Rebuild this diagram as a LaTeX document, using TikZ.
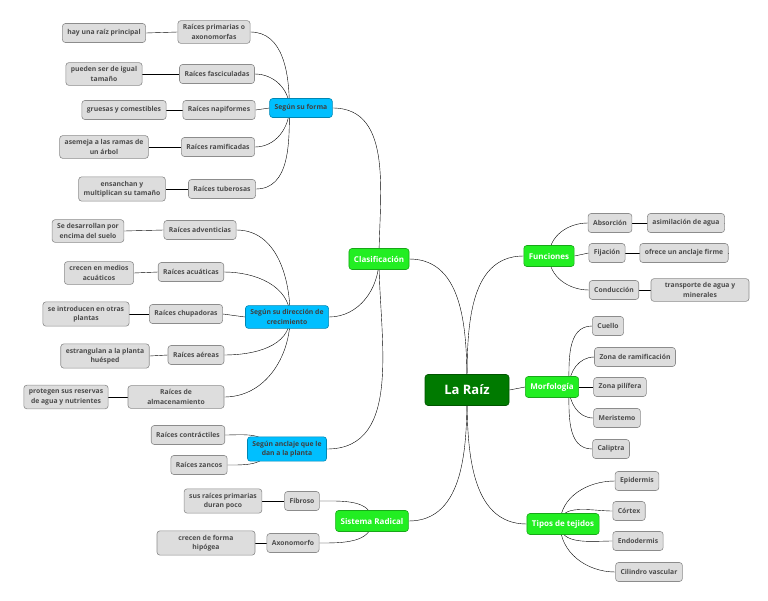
\documentclass[tikz,border=0pt]{standalone}
\usepackage{fontspec}
\setmainfont{Open Sans}
\usetikzlibrary{backgrounds}
\definecolor{dg}{HTML}{007A00}
\definecolor{lg}{HTML}{22EE22}
\definecolor{bl}{HTML}{00BFFF}
\definecolor{gr}{HTML}{DDDDDD}
\tikzset{
 base/.style={rounded corners=3pt,draw=black!45,line width=0.6pt,align=center,font=\fontsize{6.8}{9.5}\selectfont\bfseries,inner xsep=5pt,inner ysep=4pt,minimum height=19pt},
 leaf/.style={base,fill=gr,text=black!70},
 hub/.style={base,fill=bl,text=black!75,draw=bl!70!black},
 sec/.style={base,fill=lg,text=white,draw=lg!70!black,font=\fontsize{8}{10}\selectfont\bfseries,minimum height=21pt},
 rootst/.style={base,fill=dg,text=white,font=\fontsize{13}{15}\selectfont\bfseries,minimum width=84pt,minimum height=31pt,draw=dg!70!black},
 ln/.style={draw=black!50,line width=0.6pt},
}
\begin{document}
\begin{tikzpicture}[x=1pt,y=-1pt]
\useasboundingbox (0,0) rectangle (768,600);
\node[rootst] (root) at (467,390) {La Raíz};
\node[sec] (clas) at (379,259) {Clasificación};
\node[sec] (sr) at (372,521) {Sistema Radical};
\node[sec] (fun) at (549,256) {Funciones};
\node[sec] (mor) at (552,387) {Morfología};
\node[sec] (tip) at (563,524) {Tipos de tejidos};
\node[hub] (h1) at (301,108) {Según su forma};
\node[hub] (h2) at (287,317) {Según su dirección de\\crecimiento};
\node[hub] (h3) at (287,449) {Según anclaje que le\\dan a la planta};
% forma
\node[leaf] (a1) at (214,32) {Raíces primarias o\\axonomorfas};
\node[leaf] (b1) at (104,33) {hay una raíz principal};
\node[leaf] (a2) at (217,74) {Raíces fasciculadas};
\node[leaf] (b2) at (104,74) {pueden ser de igual\\tamaño};
\node[leaf] (a3) at (219,110) {Raíces napiformes};
\node[leaf] (b3) at (124,110) {gruesas y comestibles};
\node[leaf] (a4) at (218,147) {Raíces ramificadas};
\node[leaf] (b4) at (104,147) {asemeja a las ramas de\\un árbol};
\node[leaf] (a5) at (222,189) {Raíces tuberosas};
\node[leaf] (b5) at (122,189) {ensanchan y\\multiplican su tamaño};
% direccion
\node[leaf] (c1) at (200,230) {Raíces adventicias};
\node[leaf] (d1) at (88,231) {Se desarrollan por\\encima del suelo};
\node[leaf] (c2) at (191,272) {Raíces acuáticas};
\node[leaf] (d2) at (99,273) {crecen en medios\\acuáticos};
\node[leaf] (c3) at (186,314) {Raíces chupadoras};
\node[leaf] (d3) at (86,314) {se introducen en otras\\plantas};
\node[leaf] (c4) at (196,355) {Raíces aéreas};
\node[leaf] (d4) at (105,356) {estrangulan a la planta\\huésped};
\node[leaf,minimum width=96pt] (c5) at (176,397) {Raíces de\\almacenamiento};
\node[leaf] (d5) at (66,397) {protegen sus reservas\\de agua y nutrientes};
% anclaje
\node[leaf] (e1) at (188,435) {Raíces contráctiles};
\node[leaf] (e2) at (199,465) {Raíces zancos};
% sistema radical
\node[leaf] (f1) at (302,501) {Fibroso};
\node[leaf] (g1) at (223,501) {sus raíces primarias\\duran poco};
\node[leaf] (f2) at (293,543) {Axonomorfo};
\node[leaf,minimum width=98pt] (g2) at (206,543) {crecen de forma\\hipógea};
% funciones
\node[leaf] (i1) at (610,223) {Absorción};
\node[leaf] (j1) at (686,223) {asimilación de agua};
\node[leaf] (i2) at (607,253) {Fijación};
\node[leaf] (j2) at (684,253) {ofrece un anclaje firme};
\node[leaf] (i3) at (614,290) {Conducción};
\node[leaf,minimum width=98pt] (j3) at (700,290) {transporte de agua y\\minerales};
% morfologia
\node[leaf] (m1) at (608,326) {Cuello};
\node[leaf] (m2) at (635,357) {Zona de ramificación};
\node[leaf] (m3) at (620,387) {Zona pilífera};
\node[leaf] (m4) at (617,418) {Meristemo};
\node[leaf] (m5) at (611,449) {Caliptra};
% tejidos
\node[leaf] (t1) at (637,481) {Epidermis};
\node[leaf] (t2) at (629,511) {Córtex};
\node[leaf] (t3) at (638,541) {Endodermis};
\node[leaf] (t4) at (649,572) {Cilindro vascular};
\begin{scope}[on background layer,ln]
\draw (root.center) to[out=90,in=0] (clas.east);
\draw (root.center) to[out=-90,in=0] (sr.east);
\draw (root.center) to[out=90,in=180] (fun.west);
\draw (root.east) -- (mor.west);
\draw (root.center) to[out=-90,in=180] (tip.west);
\draw (clas.center) to[out=90,in=0] (h1.east);
\draw (clas.center) to[out=-90,in=0] (h2.east);
\draw (clas.center) to[out=-90,in=0] (h3.east);
\foreach \c in {a1,a2}{\draw ([xshift=20pt]h1.west) to[out=90,in=0] (\c.east);}
\draw (h1.west) -- (a3.east);
\foreach \c in {a4,a5}{\draw ([xshift=20pt]h1.west) to[out=-90,in=0] (\c.east);}
\foreach \c in {c1,c2}{\draw ([xshift=45pt]h2.west) to[out=90,in=0] (\c.east);}
\draw (h2.west) -- (c3.east);
\foreach \c in {c4,c5}{\draw ([xshift=45pt]h2.west) to[out=-90,in=0] (\c.east);}
\draw ([xshift=20pt]h3.west) to[out=90,in=0] (e1.east);
\draw ([xshift=20pt]h3.west) to[out=-90,in=0] (e2.east);
\foreach \a/\b in {a1/b1,a2/b2,a3/b3,a4/b4,a5/b5,c1/d1,c2/d2,c3/d3,c4/d4,c5/d5,f1/g1,f2/g2,i1/j1,i2/j2,i3/j3}{\draw (\a.west) -- (\b.east);}
\draw (sr.center) to[out=90,in=0] (f1.east);
\draw (sr.center) to[out=-90,in=0] (f2.east);
\draw (fun.center) to[out=90,in=180] (i1.west);
\draw (fun.east) -- (i2.west);
\draw (fun.center) to[out=-90,in=180] (i3.west);
\foreach \c in {m1,m2}{\draw ([xshift=-10pt]mor.east) to[out=90,in=180] (\c.west);}
\draw (mor.east) -- (m3.west);
\foreach \c in {m4,m5}{\draw ([xshift=-10pt]mor.east) to[out=-90,in=180] (\c.west);}
\draw ([xshift=-3pt]tip.center) to[out=90,in=180] (t1.west);
\draw ([xshift=-3pt]tip.center) to[out=90,in=180] (t2.west);
\draw ([xshift=-3pt]tip.center) to[out=-90,in=180] (t3.west);
\draw ([xshift=-3pt]tip.center) to[out=-90,in=180] (t4.west);
\end{scope}
\end{tikzpicture}
\end{document}
